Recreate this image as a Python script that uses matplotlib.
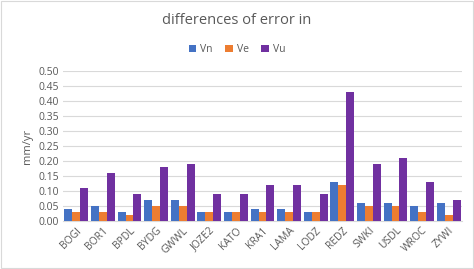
import matplotlib
matplotlib.use("Agg")
import matplotlib.pyplot as plt
import numpy as np

stations = ["BOGI", "BOR1", "BPDL", "BYDG", "GWWL", "JOZE2", "KATO", "KRA1",
            "LAMA", "LODZ", "REDZ", "SWKI", "USDL", "WROC", "ZYWI"]
vn = [0.04, 0.05, 0.03, 0.07, 0.07, 0.03, 0.03, 0.04, 0.04, 0.03, 0.13, 0.06, 0.06, 0.05, 0.06]
ve = [0.03, 0.03, 0.02, 0.05, 0.05, 0.03, 0.03, 0.03, 0.03, 0.03, 0.12, 0.05, 0.05, 0.03, 0.02]
vu = [0.11, 0.16, 0.09, 0.18, 0.19, 0.09, 0.09, 0.12, 0.12, 0.09, 0.43, 0.19, 0.21, 0.13, 0.07]
yticks = [0.00, 0.05, 0.10, 0.15, 0.20, 0.25, 0.30, 0.35, 0.40, 0.45, 0.50]

plt.rcParams['font.family'] = ['Open Sans', 'DejaVu Sans']
txt = '#595959'

fig = plt.figure(figsize=(4.74, 2.69), dpi=100)
ax = fig.add_axes([63/474, 1-221/269, (462-63)/474, (221-71)/269])

x = np.arange(len(stations))
w = 0.3
ax.bar(x - w, vn, w, color='#4472C4', label='Vn', zorder=3)
ax.bar(x, ve, w, color='#ED7D31', label='Ve', zorder=3)
ax.bar(x + w, vu, w, color='#7030A0', label='Vu', zorder=3)

ax.set_xlim(-0.5, len(stations) - 0.5)
ax.set_ylim(0, 0.5)
ax.set_yticks(yticks)
ax.set_yticklabels([f"{v:.2f}" for v in yticks], fontsize=7.5, color=txt)
ax.set_xticks(x)
ax.set_xticklabels(stations, rotation=45, ha='right', rotation_mode='anchor',
                   fontsize=7.5, color=txt)
ax.tick_params(axis='both', length=0, pad=3)
ax.grid(axis='y', color='#D9D9D9', linewidth=0.8, zorder=0)
for s in ['top', 'right', 'left']:
    ax.spines[s].set_visible(False)
ax.spines['bottom'].set_color('#D9D9D9')
ax.set_ylabel('mm/yr', fontsize=8, color=txt, labelpad=4)

fig.text(0.5, 1-20/269, 'differences of error in', ha='center', va='center',
         fontsize=10.5, color=txt)
fig.legend(loc='center', bbox_to_anchor=(0.5, 1-50/269), ncol=3, frameon=False,
           fontsize=7.5, labelcolor=txt, handlelength=0.7, handleheight=0.7,
           handletextpad=0.4, columnspacing=1.2)

fig.patches.append(plt.Rectangle((0.003, 0.004), 0.994, 0.992, transform=fig.transFigure,
                                 fill=False, edgecolor='#D9D9D9', linewidth=0.8))
fig.savefig('out.png', dpi=100)
